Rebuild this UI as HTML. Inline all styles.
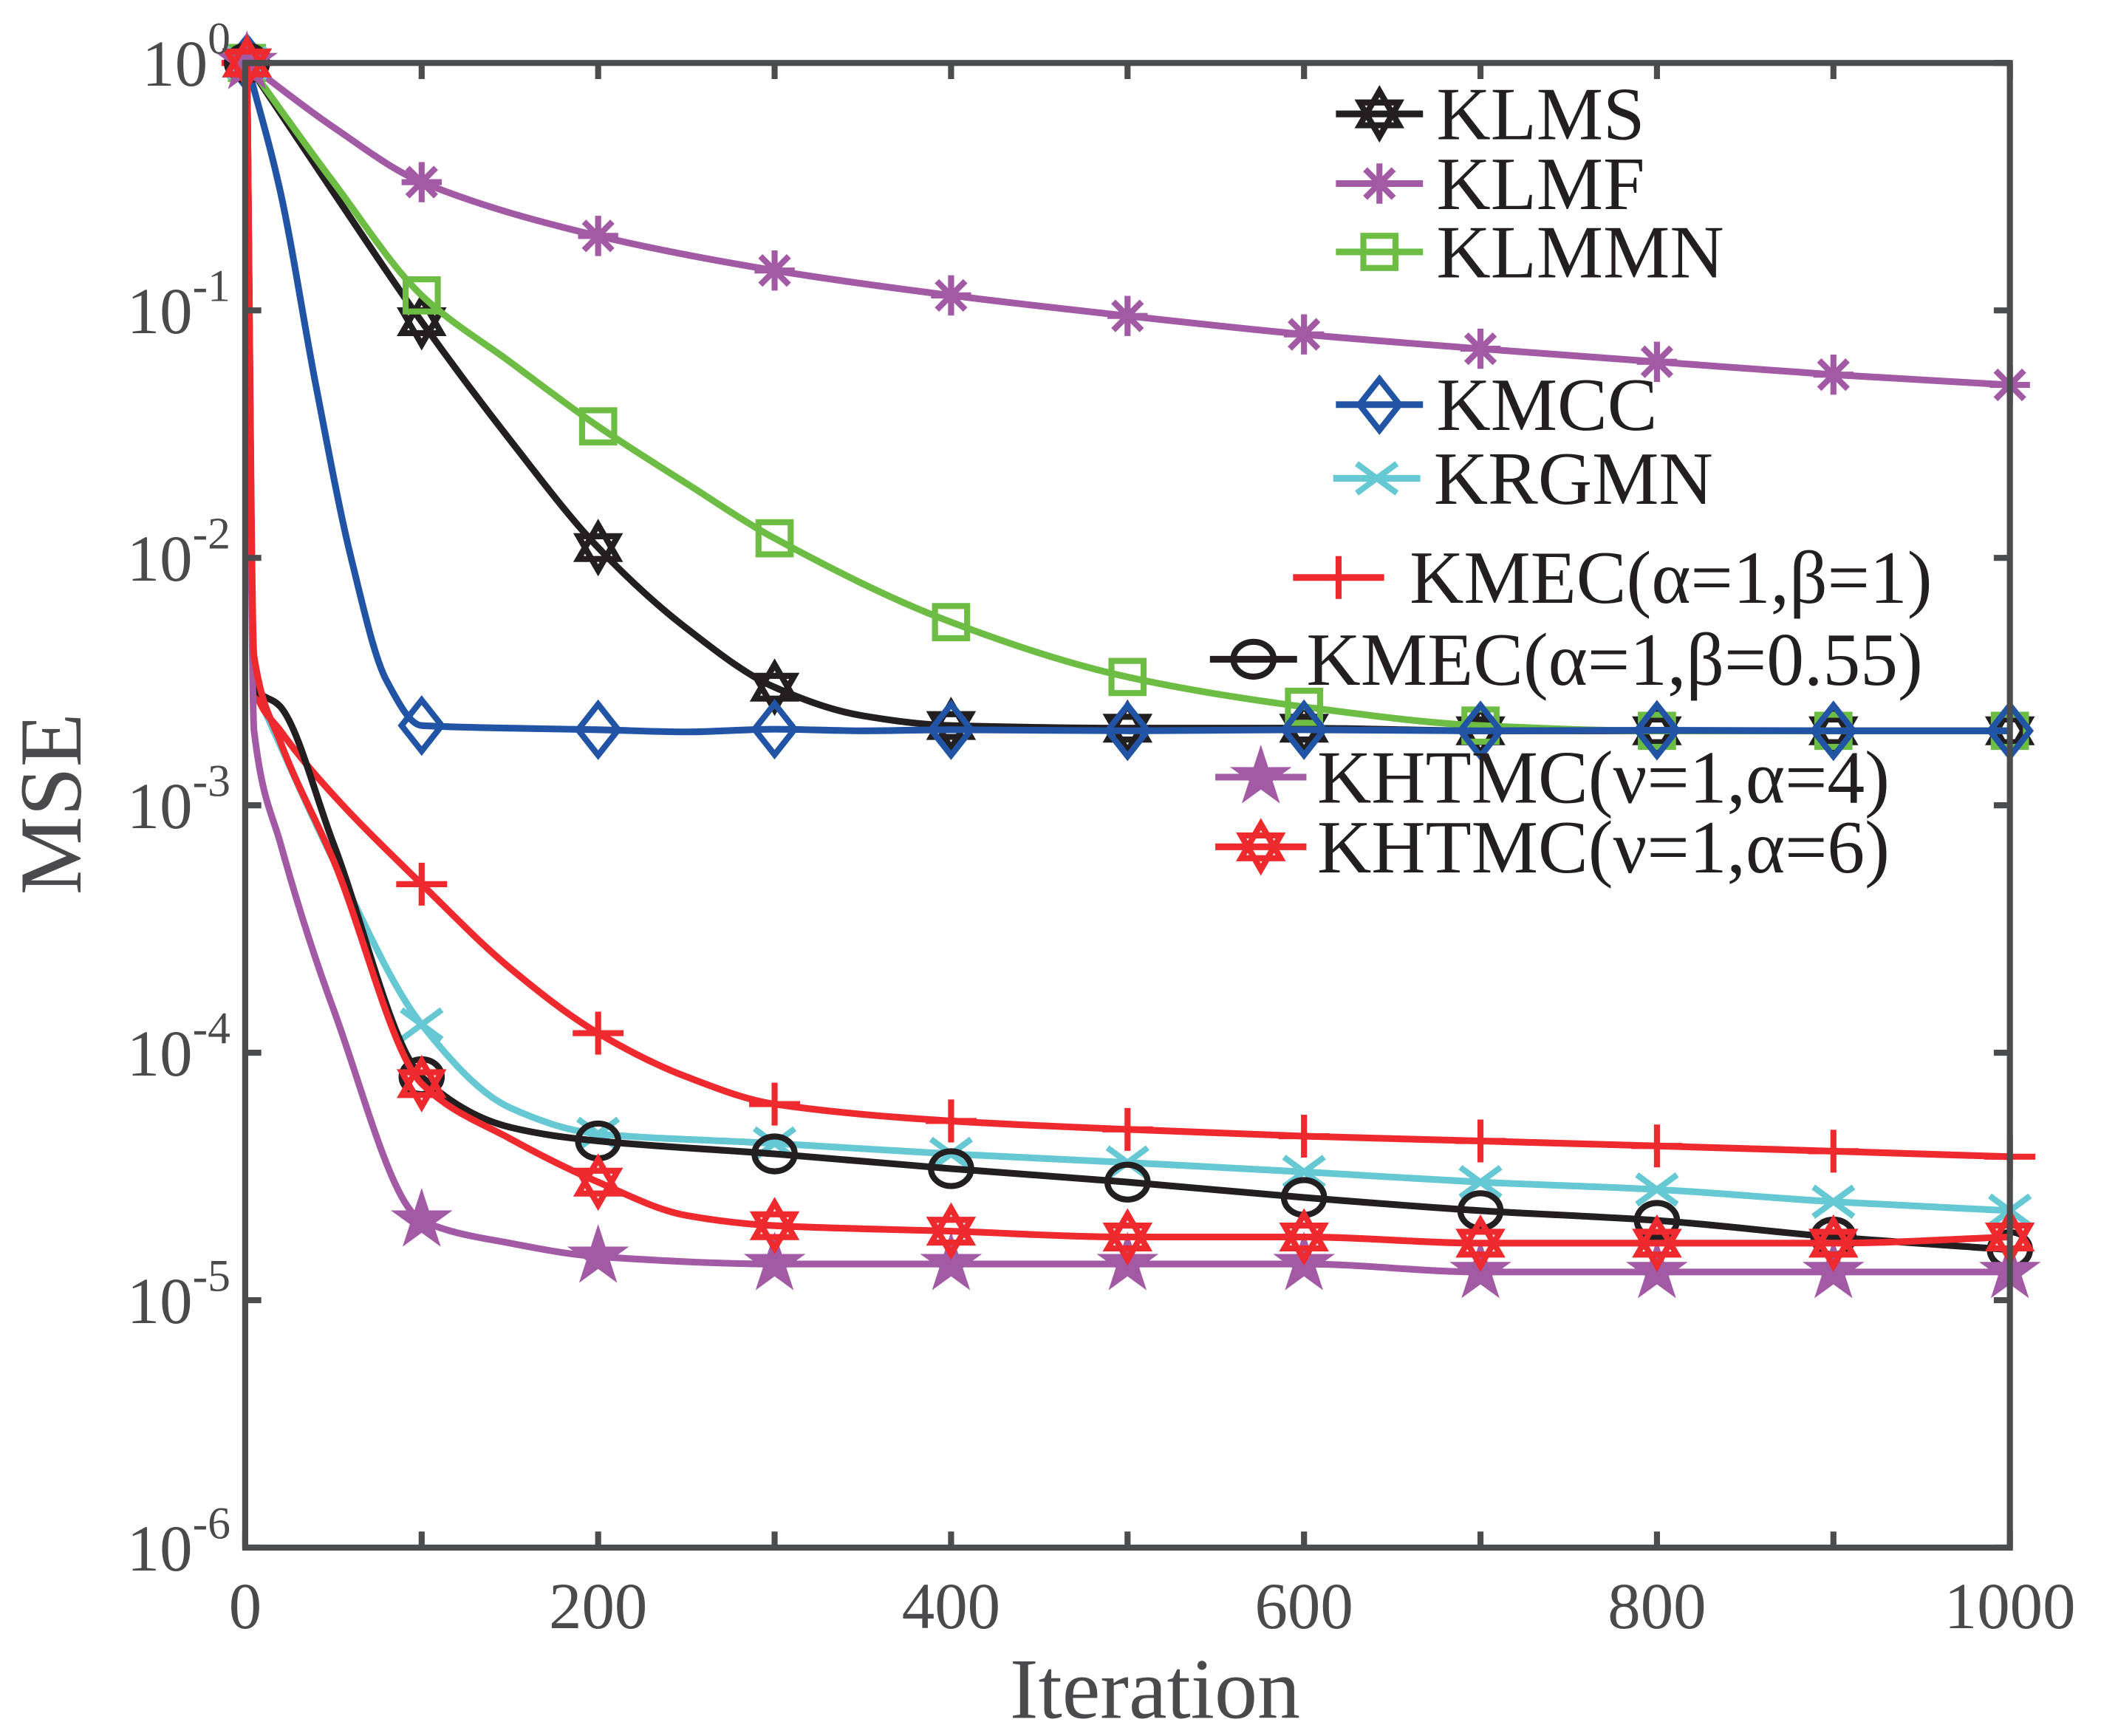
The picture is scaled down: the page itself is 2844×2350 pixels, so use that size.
<!DOCTYPE html>
<html><head><meta charset="utf-8"><style>
html,body{margin:0;padding:0;background:#fff;}
svg{display:block;font-family:"Liberation Serif",serif;}
</style></head><body>
<svg id="chart" width="2844" height="2350" viewBox="0 0 1568 1295.6" preserveAspectRatio="none" xmlns="http://www.w3.org/2000/svg">
<rect x="0" y="0" width="1568" height="1296" fill="#fff"/>
<g id="plot"></g>
<g id="axes"></g>
<g id="legend"></g>
</svg>
<script>
const xTicks = [0,200,400,600,800,1000];
const yExps = [0,-1,-2,-3,-4,-5,-6];
const seriesNames = ["KLMS","KLMF","KLMMN","KMCC","KRGMN","KMEC(α=1,β=1)","KMEC(α=1,β=0.55)","KHTMC(ν=1,α=4)","KHTMC(ν=1,α=6)"];
const klmsIt = [1,50,100,150,200,250,300,350,400,500,600,700,800,900,1000];
const klmsVal = [1,0.3,0.09,0.03,0.011,0.0052,0.003,0.0023,0.0021,0.00205,0.00205,0.002,0.002,0.002,0.002];
const klmfIt = [1,50,100,200,300,400,500,600,700,800,900,1000];
const klmfVal = [1,0.55,0.33,0.2,0.145,0.115,0.095,0.08,0.07,0.062,0.055,0.05];
const klmmnIt = [1,50,100,150,200,250,300,400,500,600,700,800,900,1000];
const klmmnVal = [1,0.33,0.115,0.062,0.034,0.02,0.012,0.0055,0.0033,0.0025,0.0021,0.002,0.002,0.002];
const kmccIt = [1,20,40,60,80,100,150,200,250,300,350,400,500,600,700,800,900,1000];
const kmccVal = [1,0.3,0.05,0.01,0.0032,0.0021,0.00205,0.00202,0.00198,0.00203,0.002,0.00202,0.002,0.00202,0.002,0.00201,0.002,0.002];
const krgmnIt = [1,5,10,50,100,150,200,300,400,500,600,700,800,900,1000];
const krgmnVal = [1,0.003,0.0025,0.0006,0.00013,0.00006,0.000047,0.000043,0.000039,0.000036,0.000033,0.00003,0.000028,0.000025,0.000023];
const kmec1It = [1,5,20,50,100,150,200,250,300,400,500,600,700,800,900,1000];
const kmec1Val = [1,0.003,0.002,0.0011,0.00048,0.00022,0.00012,0.00008,0.000062,0.000053,0.000049,0.000046,0.000044,0.000042,0.00004,0.000038];
const kmec2It = [1,5,20,50,100,150,200,300,400,500,600,700,800,900,1000];
const kmec2Val = [1,0.003,0.0025,0.0007,0.00008,0.00005,0.000044,0.000039,0.000034,0.00003,0.000026,0.000023,0.000021,0.000018,0.000016];
const kh4It = [1,5,20,50,100,150,200,300,400,500,600,700,800,900,1000];
const kh4Val = [1,0.002,0.0007,0.00015,0.000021,0.000017,0.000015,0.000014,0.000014,0.000014,0.000014,0.000013,0.000013,0.000013,0.000013];
const kh6It = [1,5,20,50,100,150,200,250,300,400,500,600,700,800,900,1000];
const kh6Val = [1,0.004,0.0018,0.0006,0.000075,0.000045,0.00003,0.000022,0.00002,0.000019,0.000018,0.000018,0.000017,0.000017,0.000017,0.000018];

const NS="http://www.w3.org/2000/svg";
const L=183,R=1500,T=47,B=1155;
const xs = v => L + (v/1000)*(R-L);
const ys = v => T + (-Math.log10(v))*((B-T)/6);
function mk(tag,attrs,parent){const e=document.createElementNS(NS,tag);for(const k in attrs)e.setAttribute(k,attrs[k]);parent.appendChild(e);return e;}
const plot=document.getElementById('plot'), axes=document.getElementById('axes'), legend=document.getElementById('legend');
const AX="#4b4c4e";
const LW=5;

const series=[
 {it:klmsIt,v:klmsVal,c:"#231f20",m:"hex",key:"klms"},
 {it:klmfIt,v:klmfVal,c:"#a25aa4",m:"ast",key:"klmf"},
 {it:klmmnIt,v:klmmnVal,c:"#6dbd45",m:"sq",key:"klmmn"},
 {it:kmccIt,v:kmccVal,c:"#2154a5",m:"dia",key:"kmcc"},
 {it:krgmnIt,v:krgmnVal,c:"#66c8d2",m:"x",key:"krgmn"},
 {it:kmec1It,v:kmec1Val,c:"#ee2a2e",m:"plus",key:"kmec-1"},
 {it:kmec2It,v:kmec2Val,c:"#231f20",m:"circ",key:"kmec-055"},
 {it:kh4It,v:kh4Val,c:"#a25aa4",m:"pent",key:"khtmc-4"},
 {it:kh6It,v:kh6Val,c:"#ee2a2e",m:"hex",key:"khtmc-6"}
];

function marker(type,cx,cy,c,parent){
  const sw=4.5;
  let e;
  if(type==="hex"){
    let p1=[],p2=[];
    for(let i=0;i<3;i++){const a=-Math.PI/2+i*2*Math.PI/3;p1.push((cx+17*Math.cos(a))+","+(cy+17*Math.sin(a)));
      const b=Math.PI/2+i*2*Math.PI/3;p2.push((cx+17*Math.cos(b))+","+(cy+17*Math.sin(b)));}
    e=mk('g',{},parent);
    mk('polygon',{points:p1.join(' '),fill:"none",stroke:c,"stroke-width":sw},e);
    mk('polygon',{points:p2.join(' '),fill:"none",stroke:c,"stroke-width":sw},e);
  } else if(type==="pent"){
    let p=[];for(let i=0;i<10;i++){const r=i%2?8:21;const a=-Math.PI/2+i*Math.PI/5;p.push((cx+r*Math.cos(a))+","+(cy+r*Math.sin(a)));}
    e=mk('polygon',{points:p.join(' '),fill:c,stroke:c,"stroke-width":2},parent);
  } else if(type==="ast"){
    e=mk('g',{stroke:c,"stroke-width":sw},parent);
    for(let i=0;i<4;i++){const a=i*Math.PI/4;mk('line',{x1:cx-15*Math.cos(a),y1:cy-15*Math.sin(a),x2:cx+15*Math.cos(a),y2:cy+15*Math.sin(a)},e);}
  } else if(type==="sq"){
    e=mk('rect',{x:cx-12,y:cy-12,width:24,height:24,fill:"none",stroke:c,"stroke-width":sw},parent);
  } else if(type==="dia"){
    e=mk('polygon',{points:`${cx},${cy-19} ${cx+15},${cy} ${cx},${cy+19} ${cx-15},${cy}`,fill:"none",stroke:c,"stroke-width":sw},parent);
  } else if(type==="x"){
    e=mk('g',{stroke:c,"stroke-width":sw},parent);
    mk('line',{x1:cx-15,y1:cy-11,x2:cx+15,y2:cy+11},e);mk('line',{x1:cx-15,y1:cy+11,x2:cx+15,y2:cy-11},e);
  } else if(type==="plus"){
    e=mk('g',{stroke:c,"stroke-width":sw},parent);
    mk('line',{x1:cx-19,y1:cy,x2:cx+19,y2:cy},e);mk('line',{x1:cx,y1:cy-16,x2:cx,y2:cy+16},e);
  } else if(type==="circ"){
    e=mk('ellipse',{cx:cx,cy:cy,rx:15,ry:13,fill:"none",stroke:c,"stroke-width":sw},parent);
  }
  return e;
}

// monotone cubic (Fritsch-Carlson)
function pathD(pts){
  const n=pts.length, d=[], m=[];
  for(let i=0;i<n-1;i++) d.push((pts[i+1][1]-pts[i][1])/(pts[i+1][0]-pts[i][0]));
  m[0]=d[0]; m[n-1]=d[n-2];
  for(let i=1;i<n-1;i++){ if(d[i-1]*d[i]<=0) m[i]=0; else { m[i]=2/(1/d[i-1]+1/d[i]); } }
  let s=`M${pts[0][0]},${pts[0][1]}`;
  for(let i=0;i<n-1;i++){
    const h=pts[i+1][0]-pts[i][0];
    s+=` C${pts[i][0]+h/3},${pts[i][1]+m[i]*h/3} ${pts[i+1][0]-h/3},${pts[i+1][1]-m[i+1]*h/3} ${pts[i+1][0]},${pts[i+1][1]}`;
  }
  return s;
}

series.forEach((s,si)=>{
  const g=mk('g',{},plot);
  
  
  const pts=s.it.map((t,i)=>[xs(t),ys(s.v[i])]);
  const p=mk('path',{d:pathD(pts),fill:"none",stroke:s.c,"stroke-width":LW,"stroke-linejoin":"round"},g);
  
  
  s.it.forEach((t,i)=>{
    if(t===1||t%100===0){
      const m=marker(s.m,xs(t),ys(s.v[i]),s.c,g);
      
      
    }
  });
});

const box=mk('rect',{x:L,y:T,width:R-L,height:B-T,fill:"none",stroke:AX,"stroke-width":4.5},axes);


for(let v=0;v<=1000;v+=100){
  const x=xs(v);
  mk('line',{x1:x,y1:B,x2:x,y2:B-12,stroke:AX,"stroke-width":4.5},axes);
  mk('line',{x1:x,y1:T,x2:x,y2:T+12,stroke:AX,"stroke-width":4.5},axes);
}
xTicks.forEach(v=>{
  const t=mk('text',{x:xs(v),y:1215,"text-anchor":"middle","font-size":49,fill:"#4a4a4c"},axes);
  t.textContent=v;
  
  
});
yExps.forEach(e=>{
  const y=ys(Math.pow(10,e));
  mk('line',{x1:L,y1:y,x2:L+12,y2:y,stroke:AX,"stroke-width":4.5},axes);
  mk('line',{x1:R,y1:y,x2:R-12,y2:y,stroke:AX,"stroke-width":4.5},axes);
  const t=mk('text',{x:172,y:y+17,"text-anchor":"end","font-size":49,fill:"#4a4a4c"},axes);
  
  
  const a=mk('tspan',{},t);a.textContent="10";
  const b=mk('tspan',{dy:-24,"font-size":34},t);b.textContent=String(e);
});
const xt=mk('text',{x:862,y:1282,"text-anchor":"middle","font-size":64,fill:"#4a4a4c"},axes);
xt.textContent="Iteration";


const yt=mk('text',{x:0,y:0,"text-anchor":"middle","font-size":66,fill:"#4a4a4c",transform:"translate(60,600) rotate(-90)"},axes);
yt.textContent="MSE";



const legPos=[[997,1062,85,1072],[997,1062,137,1072],[997,1062,188,1072],[997,1062,302,1072],[995,1060,357,1070],[965,1033,431,1052],[903,968,492,975],[907,975,580,983],[907,975,632,983]];
series.forEach((s,i)=>{
  const [x1,x2,y,tx]=legPos[i];
  const g=mk('g',{},legend);
  
  
  mk('line',{x1:x1,y1:y,x2:x2,y2:y,stroke:s.c,"stroke-width":LW},g);
  marker(s.m,(x1+x2)/2,y,s.c,g);
  const t=mk('text',{x:tx,y:y+19,"font-size":56,fill:"#231f20"},g);
  t.textContent=seriesNames[i];
});
</script>
</body></html>
